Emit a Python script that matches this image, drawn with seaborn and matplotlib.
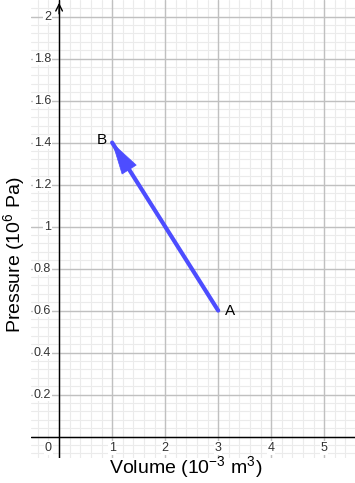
import matplotlib
matplotlib.use("Agg")
import matplotlib.pyplot as plt
import seaborn as sns
import numpy as np
import pandas as pd

# Data
states = ["A", "B"]
volume = [3, 1]          # 10^-3 m^3
pressure = [0.6, 1.4]    # 10^6 Pa
x_ticks = [1, 2, 3, 4, 5]
y_ticks = [0.2, 0.4, 0.6, 0.8, 1, 1.2, 1.4, 1.6, 1.8, 2]

sns.set_theme(style="white")
plt.rcParams['font.family'] = ['Liberation Sans', 'DejaVu Sans']
plt.rcParams['mathtext.fontset'] = 'custom'
plt.rcParams['mathtext.rm'] = 'Liberation Sans'

fig = plt.figure(figsize=(3.55, 4.83), dpi=100)
ax = fig.add_axes([31/355, 25/483, 1 - 31/355, 1 - 25/483])
ax.set_xlim(-0.53, 5.58)
ax.set_ylim(-0.102, 2.079)

# grid
for xv in np.arange(-0.4, 5.6, 0.2):
    ax.axvline(xv, color="#ebebeb", lw=0.8, zorder=0)
for yv in np.arange(-0.08, 2.08, 0.04):
    ax.axhline(yv, color="#ebebeb", lw=0.8, zorder=0)
for xv in range(0, 6):
    ax.axvline(xv, color="#c0c0c0", lw=1.0, zorder=0.5)
for yv in np.arange(0, 2.01, 0.2):
    ax.axhline(yv, color="#c0c0c0", lw=1.0, zorder=0.5)

ax.axhline(0, color="black", lw=1.0, zorder=1)
ax.axvline(0, color="black", lw=1.0, zorder=1)
ax.annotate("", xy=(0, 2.079), xytext=(0, 2.0),
            arrowprops=dict(arrowstyle="->", color="black", lw=1.0), zorder=2,
            annotation_clip=False)

for s in ax.spines.values():
    s.set_visible(False)
ax.set_xticks([])
ax.set_yticks([])

# tick labels
for xv in x_ticks:
    ax.text(xv, -0.055, str(xv), ha="center", va="center", fontsize=9,
            color="#333333", bbox=dict(facecolor="white", edgecolor="none", pad=0.5), zorder=3)
ax.text(-0.2, -0.055, "0", ha="center", va="center", fontsize=9,
        color="#333333", bbox=dict(facecolor="white", edgecolor="none", pad=0.5), zorder=3)
for yv in y_ticks:
    lab = f"{yv:g}"
    ax.text(-0.15, yv, lab, ha="right", va="center", fontsize=9,
            color="#333333", bbox=dict(facecolor="white", edgecolor="none", pad=0.5), zorder=3)

df = pd.DataFrame({"state": states, "V": volume, "P": pressure})
sns.lineplot(data=df, x="V", y="P", sort=False, color="#4d4dff", lw=3,
             ax=ax, zorder=4)
ax.annotate("", xy=(volume[1], pressure[1]), xytext=(volume[1] + 0.25, pressure[1] - 0.1),
            arrowprops=dict(arrowstyle="-|>,head_length=1.1,head_width=0.3",
                            mutation_scale=20, facecolor="#4d4dff", edgecolor="#4d4dff",
                            lw=0.5, shrinkA=0, shrinkB=0), zorder=5)

ax.text(volume[0] + 0.13, pressure[0], states[0], ha="left", va="center",
        fontsize=11, color="black", zorder=6)
ax.text(volume[1] - 0.1, pressure[1] + 0.01, states[1], ha="right", va="center",
        fontsize=11, color="black", zorder=6)

ax.set_xlabel("")
ax.set_ylabel("")
fig.text(186 / 355, 1 - 468/483, "Volume (10$^{\\mathrm{-3}}$ m$^{\\mathrm{3}}$)", ha="center",
         va="center", fontsize=14, color="black")
fig.text(15/355, 1 - 255/483, "Pressure (10$^{\\mathrm{6}}$ Pa)", ha="center", va="center",
         rotation=90, fontsize=14, color="black")

fig.savefig("out.png", dpi=100)
